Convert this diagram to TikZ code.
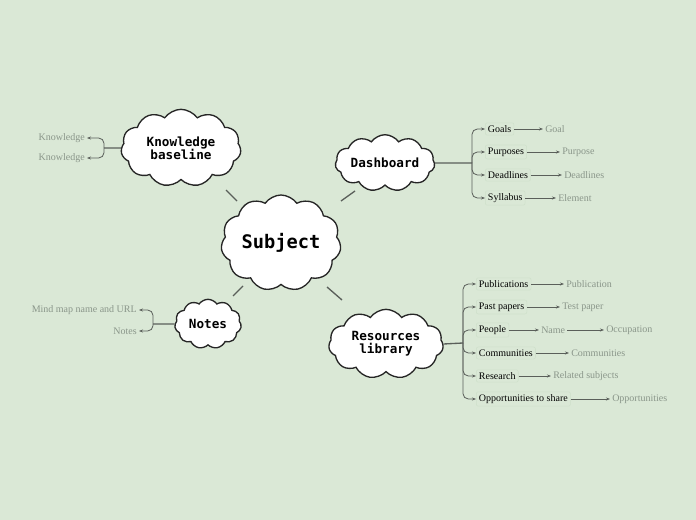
\documentclass[tikz,border=0pt]{standalone}
\usepackage{fontspec}
\setmainfont{Liberation Serif}
\newfontfamily\cloudfont{DejaVu Sans Mono}
\usetikzlibrary{shapes.symbols,arrows.meta}
\definecolor{bg}{HTML}{DAE8D6}
\definecolor{ln}{HTML}{5A5F5A}
\definecolor{gc}{HTML}{8A968A}
\definecolor{bx}{HTML}{CFE0CB}
\begin{document}
\begin{tikzpicture}[x=0.75pt,y=-0.75pt,
 cl/.style={cloud,cloud puffs=11,cloud puff arc=110,aspect=1.5,draw=black!85,line width=1pt,fill=white,align=center,font=\cloudfont\bfseries\fontsize{9.5}{10}\selectfont,inner sep=0pt},
 ch/.style={font=\fontsize{7.5}{8}\selectfont,text=black,draw=bx,rounded corners=1.5pt,inner sep=2pt},
 gch/.style={font=\fontsize{7.5}{8}\selectfont,text=gc,inner sep=1.5pt},
 br/.style={draw=ln,line width=0.6pt,rounded corners=4pt,-{Stealth[length=3pt]}},
 ar/.style={draw=ln,line width=0.6pt,-{Stealth[length=3pt]}},
 ln/.style={draw=ln,line width=1pt}]
\fill[bg] (0,0) rectangle (696,520);
\useasboundingbox (0,0) rectangle (696,520);
% clouds
\node[cl,minimum width=90pt,minimum height=72pt,font=\cloudfont\bfseries\fontsize{14}{15}\selectfont] (subj) at (281,243) {Subject};
\node[cl,minimum width=90pt,minimum height=58pt] (kb) at (181,148) {Knowledge\\baseline};
\node[cl,aspect=2.2,minimum width=72pt,minimum height=32pt] (dash) at (385,163) {Dashboard};
\node[cl,minimum width=50pt,minimum height=37pt] (notes) at (208,324) {Notes};
\node[cl,aspect=1.7,minimum width=86pt,minimum height=52pt] (res) at (386,344) {Resources\\library};
% main connectors
\coordinate (a1) at (226,190); \coordinate (a2) at (237,201);
\coordinate (b1) at (341,201); \coordinate (b2) at (355,191);
\coordinate (c1) at (233,296); \coordinate (c2) at (243,286);
\coordinate (d1) at (327,287); \coordinate (d2) at (342,300);
\draw[ln] (a1)--(a2); \draw[ln] (b1)--(b2); \draw[ln] (c1)--(c2); \draw[ln] (d1)--(d2);
% Dashboard
\coordinate (dh) at (472,163);
\draw[ln] (dash.east) -- (dh);
\foreach \n/\t/\g/\gx/\y in {g1/Goals/Goal/543/129,g2/Purposes/Purpose/560/152,g3/Deadlines/Deadlines/562/175,g4/Syllabus/Element/556/198}{
 \node[ch,anchor=west] (\n) at (485,\y) {\t};
 \node[gch,anchor=west] (\n x) at (\gx,\y) {\g};
 \draw[br] (dh) |- (\n.west);
 \draw[ar] (\n.east) -- (\n x.west);
}
% Resources
\coordinate (rh) at (463,343);
\draw[ln] (res.east) -- (rh);
\foreach \n/\t/\g/\gx/\y in {r1/Publications/Publication/564/284,r2/Past papers/Test paper/560/307,r3/People/Name/539/330,r4/Communities/Communities/569/353,r5/Research/Related subjects/551/376,r6/Opportunities to share/Opportunities/610/399}{
 \node[ch,anchor=west] (\n) at (476,\y) {\t};
 \node[gch,anchor=west] (\n x) at (\gx,\y) {\g};
 \draw[br] (rh) |- (\n.west);
 \draw[ar] (\n.east) -- (\n x.west);
}
\node[gch,anchor=west] (occ) at (604,330) {Occupation};
\draw[ar] (r3x.east) -- (occ.west);
% Knowledge
\coordinate (kh) at (104,148);
\draw[ln] (kb.west) -- (kh);
\foreach \n/\y in {k1/138,k2/158}{
 \node[gch,anchor=east] (\n) at (87,\y) {Knowledge};
 \draw[br] (kh) |- (\n.east);
}
% Notes
\coordinate (nh) at (153,324);
\draw[ln] (notes.west) -- (nh);
\node[gch,anchor=east] (n1) at (139,310) {Mind map name and URL};
\node[gch,anchor=east] (n2) at (139,331) {Notes};
\draw[br] (nh) |- (n1.east);
\draw[br] (nh) |- (n2.east);
\end{tikzpicture}
\end{document}
